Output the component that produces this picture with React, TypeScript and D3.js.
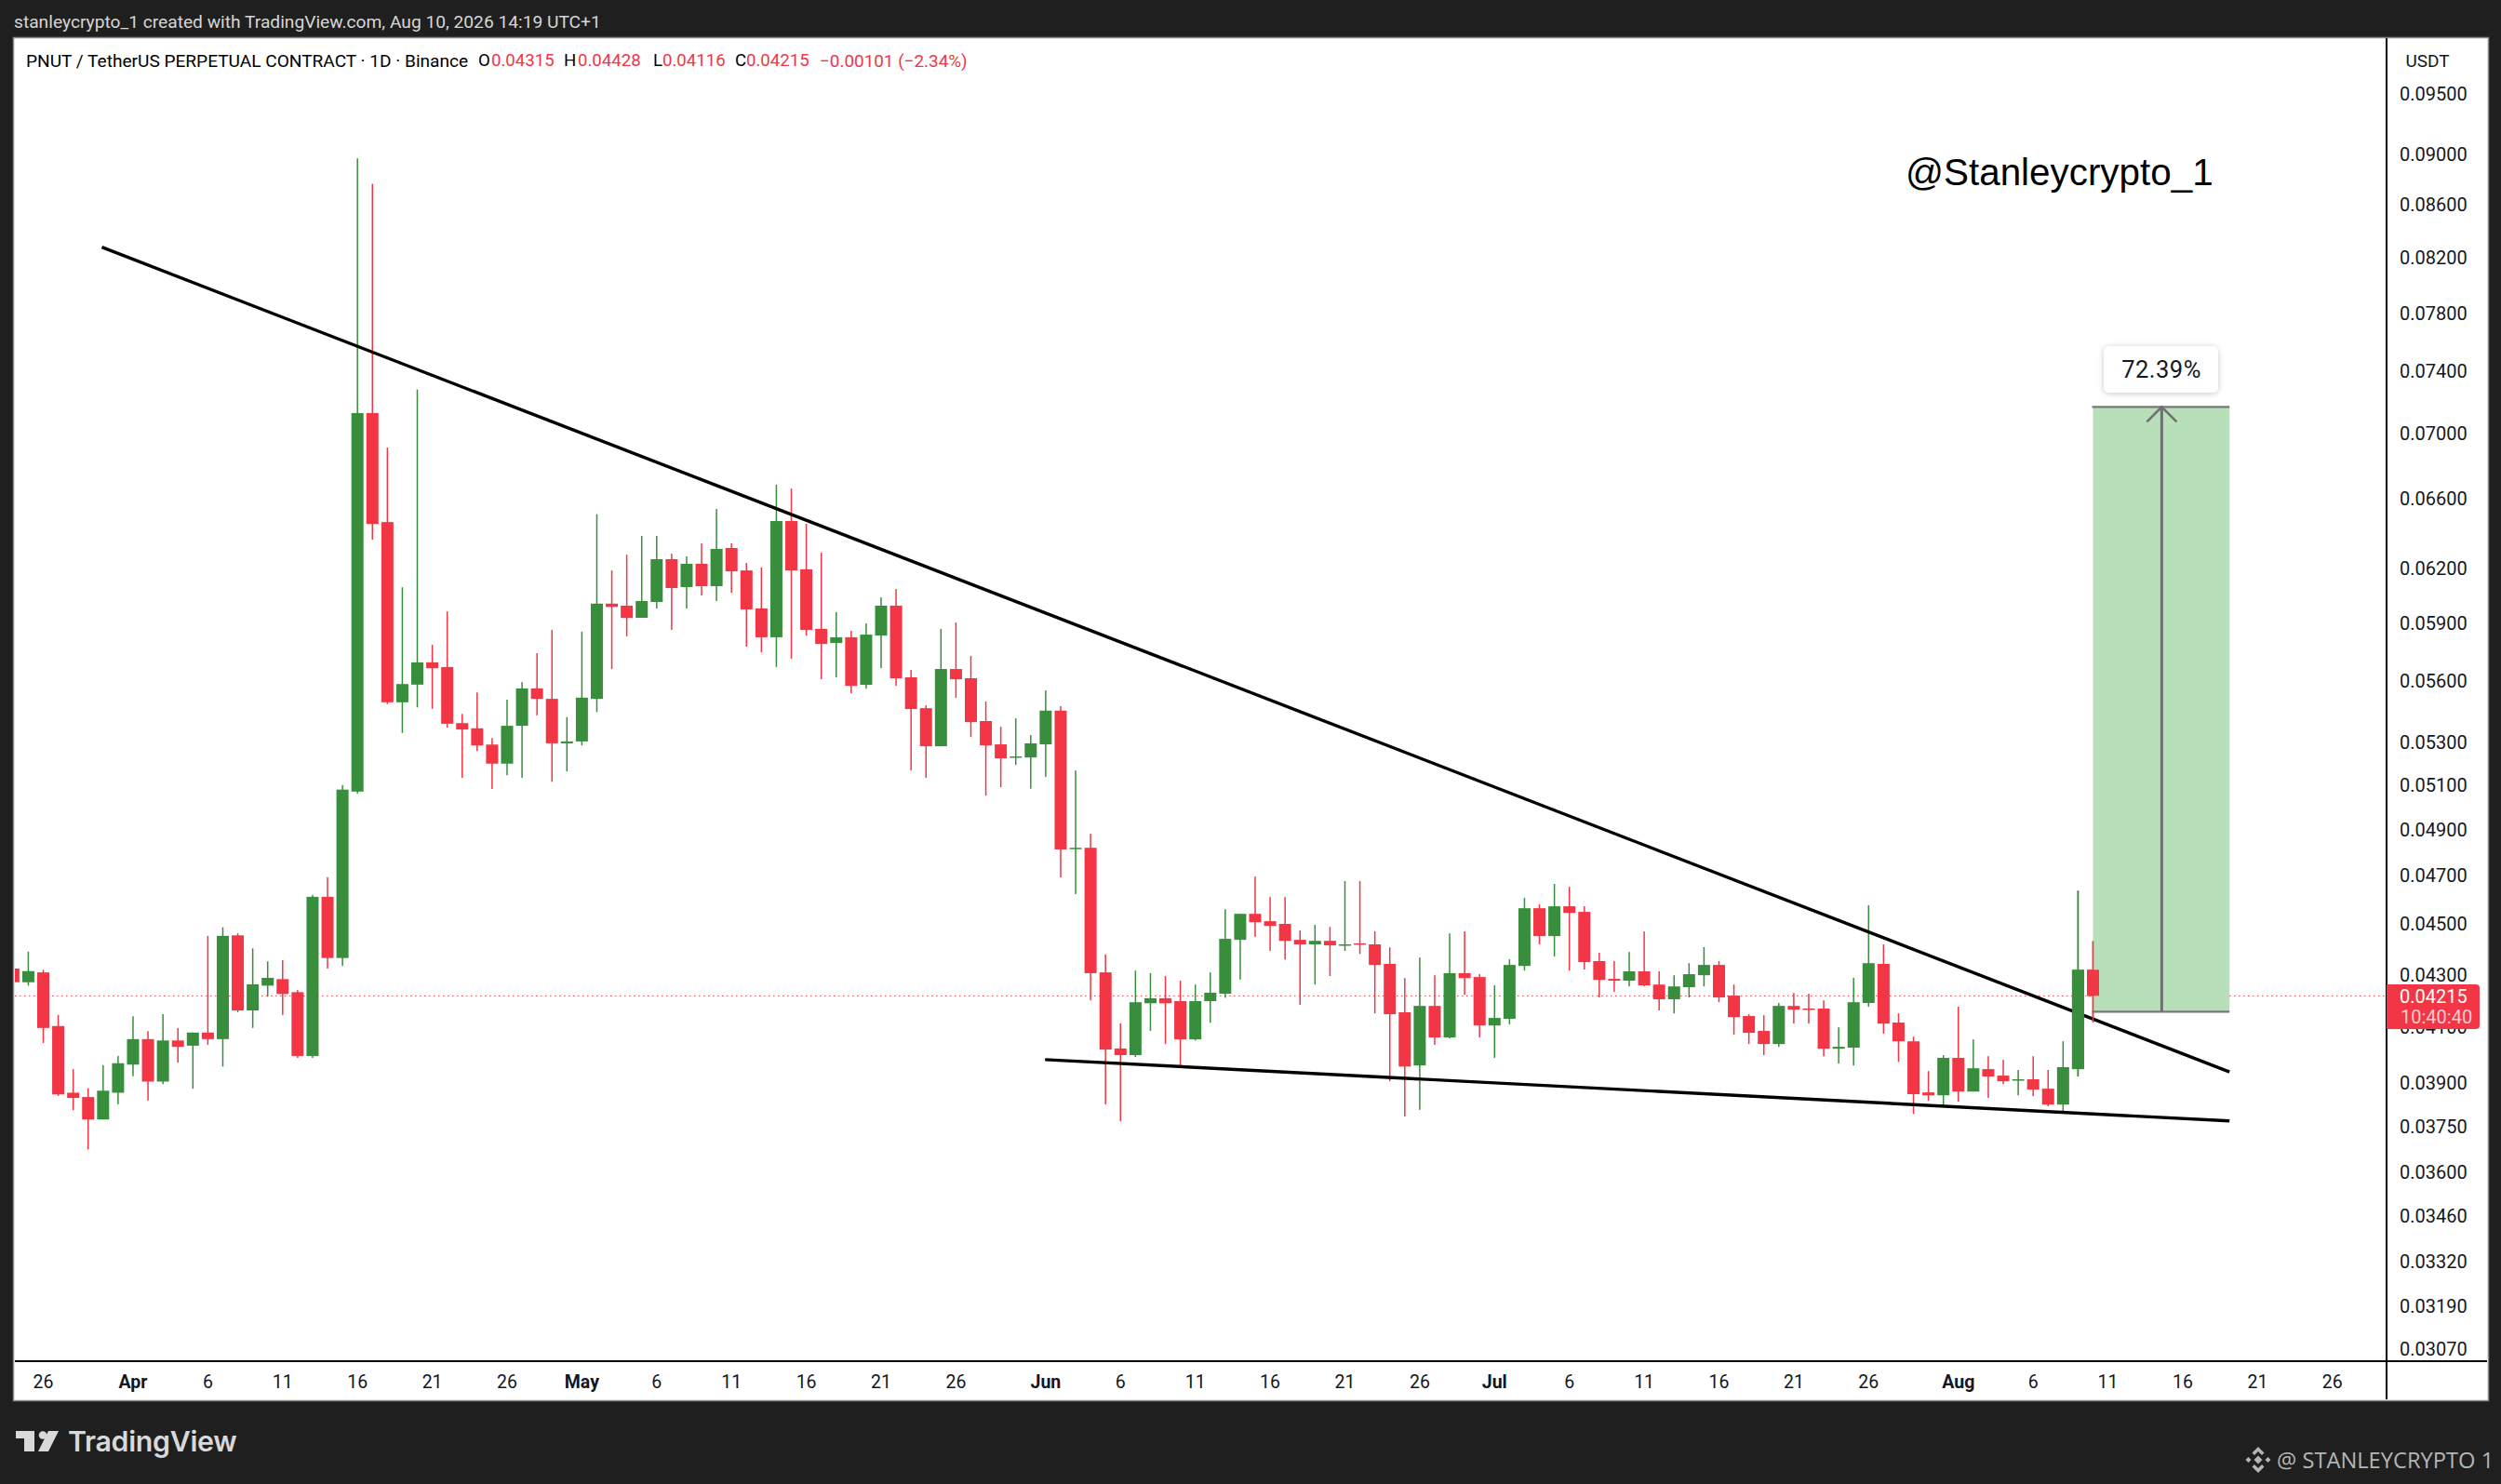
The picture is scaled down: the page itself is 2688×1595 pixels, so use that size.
import React from "react";
import * as d3 from "d3";

const firstDay = Date.UTC(2026, 2, 24);
const opensE5 = [4320,4267,4305,4102,3863,3848,3771,3863,3962,4054,3902,4049,4030,4078,4054,4451,4160,4254,4279,4229,3993,4608,4361,5066,7123,6457,5490,5578,5691,5667,5388,5363,5285,5195,5375,
5559,5507,5291,5300,5507,6000,5989,5924,6009,6245,6090,6219,6095,6308,6182,5974,5821,6463,6188,5865,5791,5821,5577,5830,5989,5615,5461,5277,5657,5610,5398,5286,5224,5224,5286,
5449,4813,4816,4305,4020,3996,4187,4206,4195,4053,4195,4223,4433,4538,4508,4497,4433,4415,4429,4411,4419,4415,4338,4153,3959,4177,4060,4302,4287,4104,4129,4330,4561,4448,4569,
4546,4349,4280,4273,4309,4258,4202,4248,4294,4334,4216,4139,4084,4036,4177,4167,4167,4019,4023,4188,4338,4115,4046,3864,3854,3986,3867,3946,3923,3906,3910,3877,3822,3946,4315];
const highsE5 = [4320,4386,4315,4143,3946,3879,3960,3993,4138,4083,4146,4095,4078,4449,4483,4459,4399,4348,4353,4237,4616,4690,5096,8958,8755,6905,6089,7275,5782,5958,5433,5539,5316,5503,5591,
5738,5860,5417,5850,6503,6182,6270,6377,6377,6276,6261,6334,6534,6334,6224,6198,6678,6655,6447,6282,5954,5855,5894,6034,6080,5652,5475,5865,5899,5724,5494,5371,5411,5330,5549,
5471,5163,4877,4375,4112,4312,4302,4291,4273,4258,4305,4557,4538,4693,4607,4607,4471,4493,4485,4674,4674,4467,4403,4283,4363,4294,4459,4467,4298,4255,4356,4604,4577,4662,4650,
4569,4382,4349,4385,4467,4309,4294,4341,4404,4349,4258,4146,4142,4188,4226,4223,4198,4097,4284,4573,4415,4149,4063,3939,3996,4174,4053,3992,3979,3943,3992,3943,4046,4634,4428];
const lowsE5 = [4267,4254,4040,3852,3803,3671,3771,3823,3921,3836,3893,3969,3877,4033,3955,4153,4095,4212,4143,3986,3986,4320,4330,5057,6356,5481,5341,5465,5458,5366,5129,5254,5078,5141,5129,
5426,5111,5159,5281,5442,5657,5826,5924,5974,5860,5974,6044,6014,6059,5772,5743,5667,5709,5830,5605,5615,5535,5558,5662,5572,5163,5129,5277,5512,5321,5048,5086,5189,5079,5133,
4689,4619,4198,3823,3765,3989,4084,4036,3958,4049,4114,4208,4277,4445,4389,4355,4181,4258,4291,4389,4377,4149,3903,3781,3804,4033,4057,4219,4060,3986,4108,4312,4415,4367,4312,
4316,4209,4230,4251,4251,4160,4149,4209,4251,4191,4070,4036,3996,4026,4111,4111,3992,3966,3959,4174,4074,3972,3790,3835,3816,3832,3867,3845,3893,3854,3851,3816,3800,3920,4116];
const closesE5 = [4267,4310,4095,3857,3845,3771,3870,3967,4054,3902,4049,4026,4078,4054,4449,4160,4259,4284,4222,3993,4608,4361,5075,7123,6446,5490,5581,5691,5661,5385,5357,5281,5195,5375,5559,
5507,5291,5300,5513,6000,5982,5923,6014,6245,6085,6219,6095,6303,6177,5969,5821,6463,6182,5860,5786,5821,5572,5835,5989,5610,5457,5277,5657,5605,5393,5281,5220,5229,5291,5449,
4809,4816,4302,4016,3996,4191,4206,4187,4053,4195,4227,4437,4538,4504,4489,4429,4415,4429,4411,4415,4415,4334,4146,3955,4177,4060,4302,4283,4104,4132,4334,4561,4448,4569,4542,
4345,4276,4273,4309,4255,4202,4251,4298,4334,4209,4135,4077,4036,4177,4163,4163,4019,4026,4191,4341,4111,4046,3858,3854,3986,3867,3949,3920,3903,3910,3874,3822,3953,4315,4215];

const priceTicks = [0.095,0.09,0.086,0.082,0.078,0.074,0.07,0.066,0.062,0.059,0.056,0.053,0.051,0.049,0.047,0.045,0.043,0.041,0.039,0.0375,0.036,0.0346,0.0332,0.0319,0.0307];
const dateTicks: [number, number, string, boolean][] = [
  [2,26,"26",false],[3,1,"Apr",true],[3,6,"6",false],[3,11,"11",false],[3,16,"16",false],[3,21,"21",false],[3,26,"26",false],
  [4,1,"May",true],[4,6,"6",false],[4,11,"11",false],[4,16,"16",false],[4,21,"21",false],[4,26,"26",false],
  [5,1,"Jun",true],[5,6,"6",false],[5,11,"11",false],[5,16,"16",false],[5,21,"21",false],[5,26,"26",false],
  [6,1,"Jul",true],[6,6,"6",false],[6,11,"11",false],[6,16,"16",false],[6,21,"21",false],[6,26,"26",false],
  [7,1,"Aug",true],[7,6,"6",false],[7,11,"11",false],[7,16,"16",false],[7,21,"21",false],[7,26,"26",false]];
const upperTrend: [number, number][] = [[Date.UTC(2026,2,29,22), 0.0827],[Date.UTC(2026,7,19,3), 0.03936]];
const lowerTrend: [number, number][] = [[Date.UTC(2026,4,31,23), 0.0398],[Date.UTC(2026,7,19,3), 0.03766]];
const lastPrice = 0.04215;
const entryPrice = 0.04155;
const gainPct = 72.39;
const projStart = Date.UTC(2026,7,10);
const projEnd = Date.UTC(2026,7,19,3);

const W = 2688, H = 1595;
const L = 16, T = 42, R = 2565, B = 1463, FR = 2673, FB = 1504;
const GREEN = "#388e3c", RED = "#f23645";
const UI = "Roboto, sans-serif";

const x = d3.scaleUtc().domain([Date.UTC(2026,2,26), Date.UTC(2026,7,10)]).range([46.5, 2249.5]);
const y = d3.scaleLog().domain([0.074, 0.0375]).range([398.4, 1209.9]);
const fmt = d3.format(".5f");
const trendPath = d3.line<[number, number]>().x(d => x(d[0])).y(d => y(d[1]));
const candles = d3.range(opensE5.length).map(i => ({
  date: d3.utcDay.offset(new Date(firstDay), i),
  o: opensE5[i] / 1e5, h: highsE5[i] / 1e5, l: lowsE5[i] / 1e5, c: closesE5[i] / 1e5,
}));

function Candle({ d }: { d: (typeof candles)[number] }) {
  const cx = x(d.date);
  const col = d.c >= d.o ? GREEN : RED;
  const top = y(Math.max(d.o, d.c)), bot = y(Math.min(d.o, d.c));
  return (
    <g fill={col}>
      <rect x={cx - 0.75} y={y(d.h)} width={1.5} height={y(d.l) - y(d.h)} />
      <rect x={cx - 6.5} y={top} width={13} height={Math.max(bot - top, 1.5)} />
    </g>
  );
}

export default function App() {
  const target = entryPrice * (1 + gainPct / 100);
  const px0 = x(projStart), px1 = x(projEnd), pyT = y(target), pyB = y(entryPrice);
  const pxm = (px0 + px1) / 2 + 0.5;
  const ly = y(lastPrice);
  return (
    <svg width={W} height={H} viewBox={`0 0 ${W} ${H}`} style={{ position: "fixed", left: 0, top: 0, display: "block" }}>
      <defs>
        <clipPath id="plot"><rect x={L} y={T} width={R - L} height={B - T} /></clipPath>
        <filter id="sh" x="-20%" y="-30%" width="140%" height="170%">
          <feDropShadow dx="0" dy="1" stdDeviation="3" floodColor="#000" floodOpacity="0.22" />
        </filter>
      </defs>
      <rect width={W} height={H} fill="#1f1f1f" />
      <rect x={L - 1.5} y={T - 1.5} width={FR - L + 3} height={FB - T + 3} fill="#fff" stroke="#8a8a8a" strokeWidth={1.5} />
      <text x={15} y={29.5} fontFamily={UI} fontSize={19.2} fill="#d6d6d6">stanleycrypto_1 created with TradingView.com, Aug 10, 2026 14:19 UTC+1</text>

      <g clipPath="url(#plot)">
        <line x1={L} x2={R} y1={ly} y2={ly} stroke={RED} strokeWidth={1} strokeDasharray="1.5 3.5" />
        {candles.map((d, i) => <Candle key={i} d={d} />)}
        <rect x={px0} y={pyT} width={px1 - px0} height={pyB - pyT} fill="#b7dfb9" />
        <line x1={px0 - 1} x2={px1} y1={pyT} y2={pyT} stroke="#777" strokeWidth={2.2} />
        <line x1={px0 - 1} x2={px1} y1={pyB} y2={pyB} stroke="#777" strokeWidth={2.2} />
        <line x1={pxm} x2={pxm} y1={pyT} y2={pyB} stroke="#6f6f6f" strokeWidth={3} />
        <path d={`M${pxm - 16} ${pyT + 16}L${pxm} ${pyT}L${pxm + 16} ${pyT + 16}`} fill="none" stroke="#6f6f6f" strokeWidth={2.6} />
        <path d={trendPath(upperTrend)!} fill="none" stroke="#000" strokeWidth={3.4} />
        <path d={trendPath(lowerTrend)!} fill="none" stroke="#000" strokeWidth={3.4} />
        {candles.slice(-2).map((d, i) => <Candle key={i} d={d} />)}
      </g>

      <rect x={2261} y={372} width={123} height={50} rx={6} fill="#fff" filter="url(#sh)" />
      <text x={2323} y={397} fontFamily={UI} fontSize={25.5} fill="#131722" textAnchor="middle" dominantBaseline="central" letterSpacing={0.5}>{gainPct.toFixed(2)}%</text>

      <text x={2048} y={199} fontFamily="Liberation Sans, sans-serif" fontSize={40.4} fill="#000">@Stanleycrypto_1</text>

      <g fontFamily={UI} fontSize={18.6} dominantBaseline="central">
        <text x={28} y={65} fill="#000" fontSize={19.1}>PNUT / TetherUS PERPETUAL CONTRACT · 1D · Binance</text>
        <text x={514} y={65} fill="#000">O</text><text x={528} y={65} fill={RED}>0.04315</text>
        <text x={606} y={65} fill="#000">H</text><text x={621} y={65} fill={RED}>0.04428</text>
        <text x={702} y={65} fill="#000">L</text><text x={712} y={65} fill={RED}>0.04116</text>
        <text x={790} y={65} fill="#000">C</text><text x={802} y={65} fill={RED}>0.04215</text>
        <text x={881} y={65} fill={RED} fontSize={18.9}>−0.00101 (−2.34%)</text>
      </g>

      <line x1={R} x2={R} y1={T - 1} y2={FB} stroke="#000" strokeWidth={2} />
      <line x1={L} x2={FR} y1={B} y2={B} stroke="#000" strokeWidth={2} />

      <g fontFamily={UI} fontSize={20} fill="#131722" dominantBaseline="central">
        <text x={2609} y={65} textAnchor="middle" fontSize={19}>USDT</text>
        {priceTicks.map(p => <text key={p} x={2579} y={y(p) + 1}>{fmt(p)}</text>)}
      </g>
      <path d={`M${R} 1058H2661a4 4 0 0 1 4 4V1102a4 4 0 0 1 -4 4H${R}Z`} fill={RED} />
      <text x={2579} y={ly + 1} fontFamily={UI} fontSize={20} fill="#fff" dominantBaseline="central">{fmt(lastPrice)}</text>
      <text x={2580} y={1093} fontFamily={UI} fontSize={20} fill="#fff" fillOpacity={0.75} dominantBaseline="central">10:40:40</text>

      <g fontFamily={UI} fontSize={19.5} fill="#131722" textAnchor="middle" dominantBaseline="central">
        {dateTicks.map(([m, dd, s, bold], i) => (
          <text key={i} x={x(Date.UTC(2026, m, dd))} y={1485} fontWeight={bold ? 700 : 400}>{s}</text>
        ))}
      </g>

      <g fill="#d9d9d9">
        <path d="M17 1538H37V1560H26V1546H17Z" />
        <circle cx={46} cy={1542.5} r={4.3} />
        <path d="M52 1538H63L52 1560H41Z" />
        <text x={73} y={1560} fontFamily="Inter, sans-serif" fontSize={30.3} fontWeight={600} letterSpacing={-0.3}>TradingView</text>
      </g>

      <g fill="#b5b5b5">
        <path d="M2427 1555L2433.5 1561.5L2431 1564L2427 1560L2423 1564L2420.5 1561.5Z" />
        <path d="M2427 1583L2433.5 1576.5L2431 1574L2427 1578L2423 1574L2420.5 1576.5Z" />
        <path d="M2427 1564.5L2431.5 1569L2427 1573.5L2422.5 1569Z" />
        <path d="M2416.5 1566L2419.5 1569L2416.5 1572L2413.5 1569Z" />
        <path d="M2437.5 1566L2440.5 1569L2437.5 1572L2434.5 1569Z" />
        <text x={2447} y={1578} fontFamily="Open Sans, sans-serif" fontSize={23.7}>@ STANLEYCRYPTO 1</text>
      </g>
    </svg>
  );
}
